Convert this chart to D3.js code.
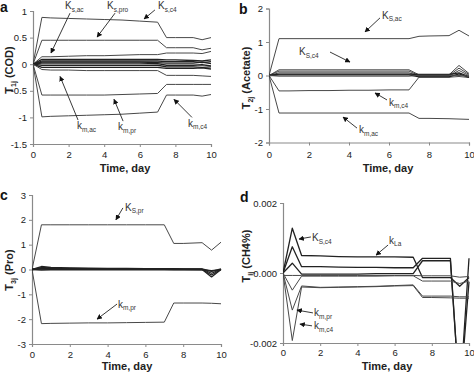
<!DOCTYPE html>
<html><head><meta charset="utf-8">
<script src="https://cdn.jsdelivr.net/npm/d3@7"></script>
<style>
body{margin:0;background:#fff;}
svg{display:block;font-family:"Liberation Sans",Arial,sans-serif;}
</style></head>
<body><svg id="c" width="474" height="373"></svg>
<script>
// ---------- DATA ----------
const times = [0, 0.5, 1, 2, 3, 4, 5, 6, 7, 7.5, 8, 9, 9.5, 10];
const xTicks = [0, 2, 4, 6, 8, 10];

// Panel a: T1j (COD)
const seriesA = [
  [0, 0.88, 0.87, 0.86, 0.85, 0.84, 0.83, 0.81, 0.79, 0.50, 0.50, 0.50, 0.46, 0.50],
  [0, 0.45, 0.45, 0.45, 0.45, 0.45, 0.45, 0.45, 0.45, 0.31, 0.31, 0.31, 0.27, 0.30],
  [0, 0.14, 0.14, 0.15, 0.16, 0.16, 0.17, 0.18, 0.18, 0.21, 0.21, 0.21, 0.20, 0.24],
  [0, 0.09, 0.09, 0.09, 0.09, 0.09, 0.09, 0.09, 0.09, 0.08, 0.08, 0.07, 0.06, 0.08],
  [0, 0.06, 0.06, 0.06, 0.06, 0.06, 0.06, 0.06, 0.06, 0.05, 0.05, 0.05, 0.03, 0.05],
  [0, 0.04, 0.04, 0.04, 0.04, 0.04, 0.04, 0.04, 0.03, 0.02, 0.02, 0.02, 0.04, 0.01],
  [0, 0.02, 0.02, 0.02, 0.02, 0.02, 0.02, 0.02, 0.01, -0.02, -0.02, -0.02, -0.01, -0.03],
  [0, -0.02, -0.02, -0.02, -0.02, -0.02, -0.02, -0.02, -0.02, -0.05, -0.05, -0.05, -0.06, -0.05],
  [0, -0.06, -0.06, -0.06, -0.06, -0.06, -0.06, -0.06, -0.06, -0.08, -0.08, -0.08, -0.07, -0.09],
  [0, -0.10, -0.11, -0.11, -0.12, -0.12, -0.12, -0.12, -0.12, -0.21, -0.21, -0.21, -0.22, -0.23],
  [0, -0.58, -0.58, -0.58, -0.58, -0.58, -0.57, -0.56, -0.55, -0.38, -0.38, -0.38, -0.38, -0.38],
  [0, -0.99, -0.98, -0.97, -0.96, -0.95, -0.94, -0.92, -0.90, -0.58, -0.58, -0.58, -0.60, -0.57]
];
const yTicksA = [1, 0.5, 0, -0.5, -1, -1.5];
const yTickLabelsA = ["1", "0.5", "0", "-0.5", "-1", "-1.5"];

// Panel b: T2j (Acetate)
const seriesB = [
  [0, 1.10, 1.10, 1.10, 1.10, 1.10, 1.10, 1.10, 1.10, 1.17, 1.18, 1.19, 1.35, 1.18],
  [0, -1.12, -1.12, -1.12, -1.12, -1.12, -1.12, -1.12, -1.12, -1.28, -1.28, -1.29, -1.30, -1.31],
  [0, -0.46, -0.46, -0.45, -0.45, -0.44, -0.44, -0.43, -0.43, -0.05, -0.05, -0.05, -0.03, -0.06],
  [0, 0.17, 0.17, 0.17, 0.17, 0.17, 0.17, 0.17, 0.17, 0.02, 0.02, 0.02, 0.30, 0.06],
  [0, 0.13, 0.13, 0.13, 0.13, 0.13, 0.13, 0.13, 0.13, 0.00, 0.00, 0.00, 0.22, 0.03],
  [0, 0.08, 0.08, 0.08, 0.08, 0.08, 0.08, 0.08, 0.08, -0.02, -0.02, -0.02, 0.15, 0.00],
  [0, 0.04, 0.04, 0.04, 0.04, 0.04, 0.04, 0.04, 0.04, 0.03, 0.03, 0.03, 0.08, -0.03],
  [0, 0.02, 0.02, 0.02, 0.02, 0.02, 0.02, 0.02, 0.02, -0.04, -0.04, -0.04, 0.05, -0.06],
  [0, -0.02, -0.02, -0.02, -0.02, -0.02, -0.02, -0.02, -0.02, 0.01, 0.01, 0.01, 0.00, -0.02]
];
const yTicksB = [2, 1, 0, -1, -2];
const yTickLabelsB = ["2", "1", "0", "-1", "-2"];

// Panel c: T3j (Pro)
const seriesC = [
  [0, 1.80, 1.80, 1.80, 1.80, 1.80, 1.80, 1.80, 1.80, 1.05, 1.05, 1.08, 0.78, 1.10],
  [0, -2.18, -2.17, -2.16, -2.15, -2.15, -2.14, -2.13, -2.12, -1.35, -1.35, -1.35, -1.36, -1.38],
  [0, 0.12, 0.08, 0.06, 0.05, 0.04, 0.04, 0.03, 0.03, 0.03, 0.02, 0.02, -0.08, 0.02],
  [0, 0.08, 0.05, 0.04, 0.03, 0.03, 0.03, 0.02, 0.02, 0.02, 0.01, 0.01, -0.15, 0.01],
  [0, 0.05, 0.03, 0.02, 0.02, 0.02, 0.02, 0.01, 0.01, 0.01, 0.01, 0.00, -0.22, 0.00],
  [0, 0.03, 0.02, 0.01, 0.01, 0.01, 0.01, 0.01, 0.01, 0.00, 0.00, 0.00, -0.30, 0.00],
  [0, -0.02, -0.01, -0.01, -0.01, -0.01, -0.01, -0.01, -0.01, -0.01, -0.01, -0.01, -0.05, -0.01]
];
const yTicksC = [3, 2, 1, 0, -1, -2, -3];
const yTickLabelsC = ["3", "2", "1", "0", "-1", "-2", "-3"];

// Panel d: Tij (CH4%)
const seriesD = [
  [0, 0.00128, 0.00050, 0.00049, 0.00047, 0.00046, 0.00046, 0.00046, 0.00045, -0.00013, -0.00013, -0.00013, -0.00038, -0.00013],
  [0, 0.00075, 0.00018, 0.00018, 0.00017, 0.00016, 0.00016, 0.00015, 0.00015, 0.00042, 0.00042, 0.00042, -0.0036, 0.00042],
  [0, 0.00028, -0.00003, -0.00003, -0.00003, -0.00003, -0.00002, -0.00002, -0.00002, 0.00035, 0.00035, 0.00035, -0.0036, -0.00025],
  [0, -0.00049, -0.00009, -0.00009, -0.00009, -0.00009, -0.00009, -0.00008, -0.00008, -0.00023, -0.00023, -0.00023, -0.00030, -0.00023],
  [0, -0.00106, -0.00037, -0.00041, -0.00040, -0.00039, -0.00038, -0.00036, -0.00034, -0.00066, -0.00066, -0.00066, -0.00068, -0.00068],
  [0, -0.00193, -0.00040, -0.00042, -0.00041, -0.00040, -0.00039, -0.00037, -0.00036, -0.00070, -0.00070, -0.00071, -0.00072, -0.00072],
  [-0.00007, -0.00007, -0.00007, -0.00007, -0.00007, -0.00007, -0.00007, -0.00007, -0.00007, -0.00008, -0.00008, -0.00008, -0.00012, -0.00010]
];
const yTicksD = [0.002, 0, -0.002];
const yTickLabelsD = ["0.002", "0.000", "-0.002"];

// ---------- LAYOUT ----------
const svg = d3.select("#c");
const axisColor = "#8a8a8a";
const lineColor = "#484848";

const panels = [
  {id:"a", series:seriesA, yDom:[-1.5,1], xR:[33,211], yR:[144,11], yTicks:yTicksA, yLabels:yTickLabelsA,
   letter:{x:0,y:12}, ytitle:{x:13,y:70,sub:"1j",rest:" (COD)"}, xtitle:{x:125,y:172}, xTickY:158,
   strong:[3,4,5,6,7,8],
   notes:[
     {k:"K",s:"s,ac", t:[1.80,1.03], a:[2.08,0.96,1.01,0.21]},
     {k:"K",s:"s,pro",t:[4.16,1.03], a:[4.61,0.96,3.60,0.51]},
     {k:"K",s:"s,c4", t:[7.02,1.03], a:[6.85,1.02,6.24,0.85]},
     {k:"k",s:"m,ac", t:[2.47,-1.22],a:[2.53,-1.05,1.52,-0.23]},
     {k:"k",s:"m,pr", t:[4.78,-1.24],a:[5.06,-1.07,4.55,-0.66]},
     {k:"k",s:"m,c4", t:[8.71,-1.18],a:[8.93,-1.00,7.92,-0.66]}
   ]},
  {id:"b", series:seriesB, yDom:[-2,2], xR:[269,469], yR:[142.5,8.5], yTicks:yTicksB, yLabels:yTickLabelsB,
   letter:{x:239,y:14}, ytitle:{x:250,y:78,sub:"2j",rest:" (Acetate)"}, xtitle:{x:388,y:172}, xTickY:158,
   strong:[6,7],
   notes:[
     {k:"K",s:"S,ac", t:[5.65,1.69], a:[5.55,1.72,4.80,1.30]},
     {k:"K",s:"S,c4", t:[1.50,0.61], a:[3.05,0.70,4.05,0.40]},
     {k:"k",s:"m,c4", t:[6.00,-0.91],a:[5.90,-0.73,5.30,-0.52]},
     {k:"k",s:"m,ac", t:[4.50,-1.72],a:[4.40,-1.57,3.70,-1.24]}
   ]},
  {id:"c", series:seriesC, yDom:[-3,3], xR:[32,221], yR:[344,195], yTicks:yTicksC, yLabels:yTickLabelsC,
   letter:{x:0,y:200}, ytitle:{x:13,y:270,sub:"3j",rest:" (Pro)"}, xtitle:{x:127,y:369.5}, xTickY:358,
   strong:[2,3,4,5,6],
   notes:[
     {k:"K",s:"S,pr", t:[4.92,2.36], a:[4.81,2.48,4.44,2.00]},
     {k:"k",s:"m,pr", t:[4.55,-1.55],a:[4.50,-1.39,3.44,-2.00]}
   ]},
  {id:"d", series:seriesD, yDom:[-0.002,0.002], xR:[283,469], yR:[343,203], yTicks:yTicksD, yLabels:yTickLabelsD,
   letter:{x:240,y:202}, ytitle:{x:250,y:256,sub:"ij",rest:" (CH4%)"}, xtitle:{x:387,y:369.5}, xTickY:356,
   strong:[0,1,2],
   notes:[
     {k:"K",s:"S,c4", t:[1.56,0.00091], a:[1.50,0.00103,0.86,0.00097]},
     {k:"k",s:"La",   t:[5.70,0.00083], a:[5.65,0.00080,5.00,0.00051]},
     {k:"k",s:"m,pr", t:[1.67,-0.00123],a:[1.61,-0.00114,0.75,-0.00106]},
     {k:"k",s:"m,c4", t:[1.67,-0.00160],a:[1.56,-0.00151,0.91,-0.00146]}
   ]}
];

const defs = svg.append("defs");
defs.append("marker").attr("id","ah").attr("viewBox","0 0 10 10").attr("refX",9).attr("refY",5)
  .attr("markerWidth",6).attr("markerHeight",6).attr("orient","auto")
  .append("path").attr("d","M0,0 L10,5 L0,10 z").attr("fill","#111");

panels.forEach(p => {
  const x = d3.scaleLinear().domain([0,10]).range(p.xR);
  const y = d3.scaleLinear().domain(p.yDom).range(p.yR);
  const g = svg.append("g");

  defs.append("clipPath").attr("id","clip"+p.id).append("rect")
    .attr("x",p.xR[0]).attr("y",p.yR[1]).attr("width",p.xR[1]-p.xR[0]+2).attr("height",p.yR[0]-p.yR[1]);

  // axes
  const yAxis = d3.axisLeft(y).tickValues(p.yTicks).tickSize(3).tickPadding(3)
    .tickFormat((d,i)=>p.yLabels[i]);
  const xAxis = d3.axisBottom(x).tickValues(xTicks).tickSize(3).tickPadding(4);
  const ya = g.append("g").attr("transform",`translate(${p.xR[0]},0)`).call(yAxis);
  const xa = g.append("g").attr("transform",`translate(0,${p.yR[0]})`).call(xAxis);
  [ya,xa].forEach(a=>{
    a.select(".domain").attr("stroke",axisColor).attr("stroke-width",1.2);
    a.selectAll(".tick line").attr("stroke",axisColor);
    a.selectAll("text").attr("fill","#222").attr("font-size",9.5).attr("font-family","Liberation Sans, Arial, sans-serif");
  });
  xa.selectAll("text").attr("y",null).attr("dy",null).attr("transform",`translate(0,${p.xTickY - p.yR[0]})`);

  // lines
  const line = d3.line().x((d,i)=>x(times[i])).y(d=>y(d));
  const lg = g.append("g").attr("clip-path",`url(#clip${p.id})`);
  p.series.forEach((s,i)=>{
    const strong = p.strong.includes(i);
    lg.append("path").attr("d",line(s)).attr("fill","none")
      .attr("stroke", strong ? "#222" : lineColor)
      .attr("stroke-width", strong ? 1.3 : 1)
      .attr("stroke-linejoin","round");
  });

  // annotations
  p.notes.forEach(n=>{
    g.append("line").attr("x1",x(n.a[0])).attr("y1",y(n.a[1])).attr("x2",x(n.a[2])).attr("y2",y(n.a[3]))
      .attr("stroke","#222").attr("stroke-width",0.9).attr("marker-end","url(#ah)");
    const t = g.append("text").attr("x",x(n.t[0])).attr("y",y(n.t[1]))
      .attr("font-size",10).attr("fill","#333");
    t.append("tspan").text(n.k);
    t.append("tspan").attr("font-size",6.5).attr("dy",2.5).text(n.s);
  });

  // panel letter
  svg.append("text").attr("x",p.letter.x).attr("y",p.letter.y).attr("font-size",14)
    .attr("font-weight","bold").attr("fill","#111").text(p.id);

  // y title
  const yt = svg.append("text").attr("transform",`translate(${p.ytitle.x},${p.ytitle.y}) rotate(-90)`)
    .attr("text-anchor","middle").attr("font-size",11).attr("font-weight","bold").attr("fill","#222");
  yt.append("tspan").text("T");
  yt.append("tspan").attr("font-size",7).attr("dy",2.5).text(p.ytitle.sub);
  yt.append("tspan").attr("dy",-2.5).text(p.ytitle.rest);

  // x title
  svg.append("text").attr("x",p.xtitle.x).attr("y",p.xtitle.y).attr("text-anchor","middle")
    .attr("font-size",11).attr("font-weight","bold").attr("fill","#222").text("Time, day");
});
</script></body></html>
